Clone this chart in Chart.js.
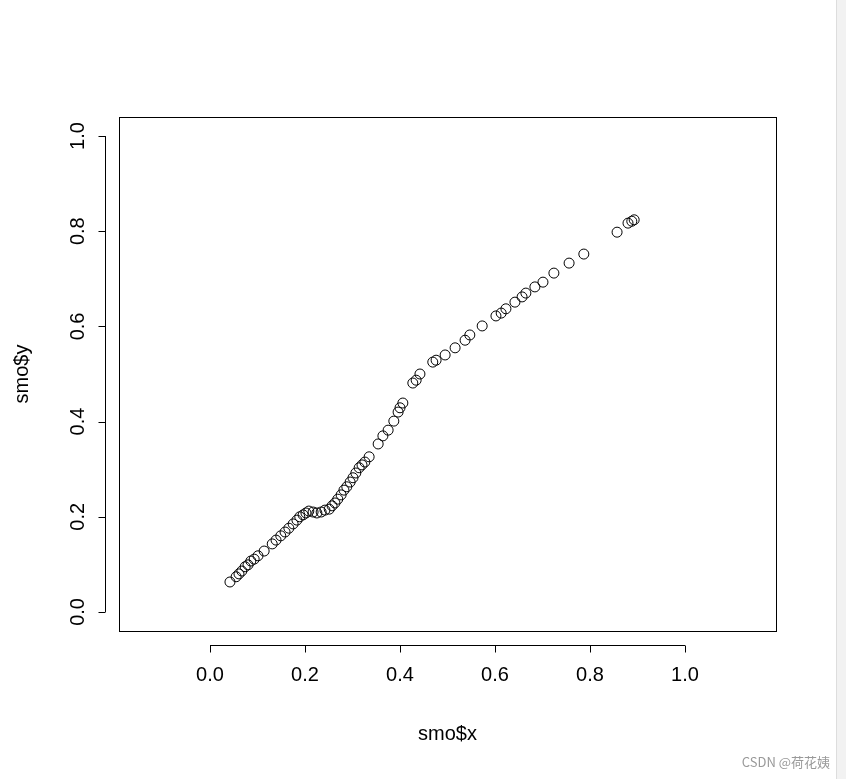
<!DOCTYPE html>
<html><head><meta charset="utf-8">
<script src="https://cdn.jsdelivr.net/npm/chart.js@4/dist/chart.umd.min.js"></script>
<style>
html,body{margin:0;padding:0;background:#fff;}
#wrap{position:relative;width:846px;height:779px;}
#edge{position:absolute;left:836px;top:0;width:10px;height:779px;background:#f2f2f2;border-left:1px solid #ddd;}
#wm{position:absolute;right:16px;bottom:8px;font:13px "Noto Sans CJK SC","Liberation Sans",sans-serif;color:#999;}
</style></head>
<body><div id="wrap"><canvas id="c" width="846" height="779"></canvas><div id="edge"></div><div id="wm">CSDN @荷花姨</div></div>
<script>
const xVals=[0.042,0.055,0.061,0.067,0.074,0.080,0.086,0.093,0.101,0.114,0.131,0.139,0.149,0.158,0.166,0.175,0.183,0.189,0.196,0.202,0.208,0.217,0.225,0.234,0.242,0.251,0.257,0.263,0.269,0.276,0.282,0.288,0.295,0.301,0.307,0.314,0.320,0.326,0.335,0.354,0.364,0.375,0.387,0.396,0.400,0.406,0.427,0.434,0.442,0.469,0.476,0.495,0.516,0.537,0.547,0.573,0.602,0.613,0.623,0.642,0.657,0.665,0.684,0.701,0.724,0.756,0.787,0.857,0.880,0.888,0.893];
const yVals=[0.063,0.074,0.080,0.086,0.095,0.099,0.107,0.111,0.118,0.128,0.143,0.151,0.160,0.168,0.176,0.185,0.193,0.200,0.204,0.208,0.212,0.210,0.208,0.210,0.214,0.216,0.223,0.229,0.237,0.246,0.256,0.263,0.273,0.282,0.292,0.303,0.309,0.315,0.326,0.353,0.370,0.382,0.401,0.420,0.429,0.439,0.481,0.487,0.500,0.525,0.529,0.540,0.555,0.571,0.582,0.601,0.622,0.628,0.637,0.651,0.662,0.670,0.683,0.693,0.712,0.733,0.752,0.798,0.817,0.821,0.824];
const xTicks=[0.0,0.2,0.4,0.6,0.8,1.0];
const yTicks=[0.0,0.2,0.4,0.6,0.8,1.0];
const pts=xVals.map((x,i)=>({x:x,y:yVals[i]}));
const FONT='"Liberation Sans", Arial, sans-serif';
const rAxes={id:'rAxes',afterDraw(ch){
  const c=ch.ctx,a=ch.chartArea,sx=ch.scales.x,sy=ch.scales.y;
  c.save();c.strokeStyle='#000';c.lineWidth=1;c.fillStyle='#000';
  c.strokeRect(a.left+0.5,a.top+0.5,a.right-a.left,a.bottom-a.top);
  const ay=645.5;
  c.beginPath();c.moveTo(sx.getPixelForValue(xTicks[0]),ay);c.lineTo(sx.getPixelForValue(xTicks[xTicks.length-1]),ay);
  xTicks.forEach(t=>{const p=Math.round(sx.getPixelForValue(t))+0.5;c.moveTo(p,ay);c.lineTo(p,ay+7);});
  const ax=105.5;
  c.moveTo(ax,sy.getPixelForValue(yTicks[0]));c.lineTo(ax,sy.getPixelForValue(yTicks[yTicks.length-1]));
  yTicks.forEach(t=>{const p=Math.round(sy.getPixelForValue(t))+0.5;c.moveTo(ax,p);c.lineTo(ax-7,p);});
  c.stroke();
  c.font='20px '+FONT;c.textAlign='center';c.textBaseline='middle';
  xTicks.forEach(t=>c.fillText(t.toFixed(1),sx.getPixelForValue(t),675));
  yTicks.forEach(t=>{c.save();c.translate(78,sy.getPixelForValue(t));c.rotate(-Math.PI/2);c.fillText(t.toFixed(1),0,0);c.restore();});
  c.fillText('smo$x',(a.left+a.right)/2,734);
  c.save();c.translate(22,(a.top+a.bottom)/2);c.rotate(-Math.PI/2);c.fillText('smo$y',0,0);c.restore();
  c.restore();
}};
new Chart(document.getElementById('c'),{
  type:'scatter',
  data:{datasets:[{data:pts,pointRadius:5,pointHoverRadius:5,borderColor:'#000',borderWidth:1,backgroundColor:'rgba(0,0,0,0)'}]},
  options:{responsive:false,animation:false,devicePixelRatio:1,
    layout:{padding:{left:119,right:70,top:117,bottom:148}},
    plugins:{legend:{display:false},tooltip:{enabled:false}},
    scales:{x:{type:'linear',display:false,min:-0.1916,max:1.1916},
            y:{type:'linear',display:false,min:-0.04,max:1.04}}},
  plugins:[rAxes]
});
</script></body></html>
